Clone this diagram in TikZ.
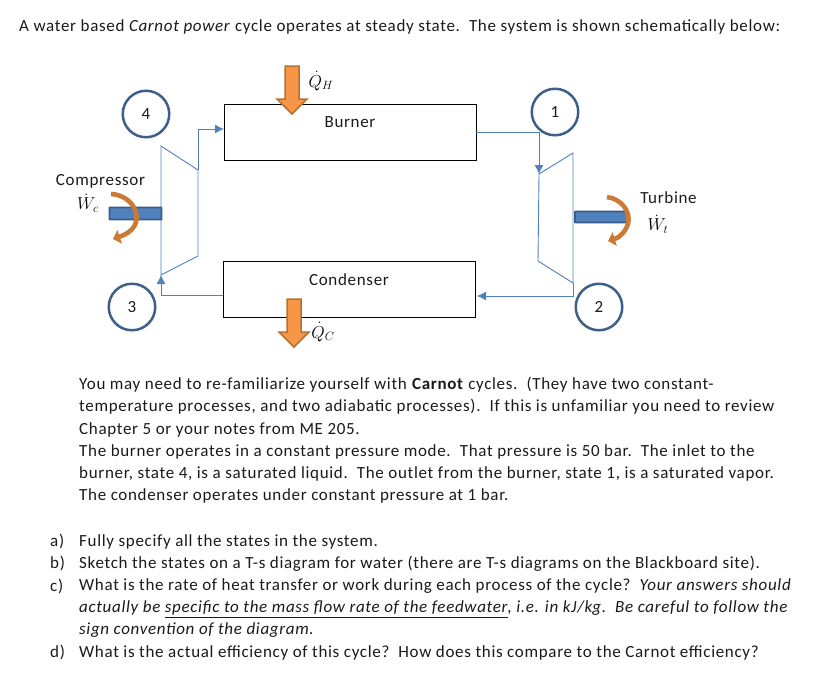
\documentclass[tikz,border=0pt]{standalone}
\usepackage{fontspec}
\setmainfont[LetterSpace=4]{Carlito}
\usetikzlibrary{arrows.meta,positioning}
\definecolor{Flow}{HTML}{4F81BD}
\definecolor{FlowDark}{HTML}{385D8A}
\definecolor{Ring}{HTML}{3E5F8A}
\definecolor{Heat}{HTML}{F79646}
\definecolor{HeatDark}{HTML}{B9702F}
\definecolor{Spin}{HTML}{CB7A35}
\definecolor{Ink}{HTML}{1A1A1A}

\begin{document}
\begin{tikzpicture}[
  x=1pt,y=-1pt,
  every node/.style={font=\fontsize{17}{22.2}\selectfont,text=Ink,inner sep=0pt,align=left},
  rate/.style={font=\fontsize{18}{22}\selectfont,text=black},
  unit/.style={draw=black,fill=white,line width=0.9pt,minimum width=252pt,minimum height=56pt},
  state/.style={circle,draw=Ring,line width=2.5pt,fill=white,minimum size=46.5pt},
  pipe/.style={draw=Flow,line width=0.9pt},
  flow/.style={pipe,-{Latex[length=9pt,width=9pt]}},
  shaft/.style={draw=FlowDark,fill=Flow,line width=1.8pt,rounded corners=0.5pt},
  spin/.style={draw=Spin,line width=4.6pt,-{Triangle[length=7pt,width=14pt]}},
  heatarrow/.pic={\draw[fill=Heat,draw=HeatDark,line width=1.5pt,line join=miter]
    (-7,0)--(7,0)--(7,33)--(15,33)--(0,48)--(-15,33)--(-7,33)--cycle;}
]
\useasboundingbox (0,0) rectangle (834,689);

\node[anchor=base west] (intro) at (19,31) {A water based \textit{Carnot power} cycle operates at steady state.\ \ The system is shown schematically below:};

% burner and condenser
\node[unit] (burner) at (350,132) {};
\node (burnertext) at (350,122) {Burner};
\node[unit] (cond) at (349.5,289) {};
\node (condtext) at (349,280) {Condenser};

\pic (qh) at (292,66) {heatarrow};
\pic (qc) at (294,299) {heatarrow};
\node[rate] (qhlabel) at (321,81) {$\dot{Q}_H$};
\node[rate] (qclabel) at (323,332) {$\dot{Q}_C$};

% compressor
\coordinate (c1) at (161,146);
\coordinate (c2) at (198,170);
\coordinate (c3) at (198,256);
\coordinate (c4) at (161,275);
\coordinate (burnerin) at (224,129);
\coordinate (condout) at (223,295);
\draw[pipe] (c1)--(c2)--(c3)--(c4)--cycle;
\draw[flow] (c2)|-(burnerin);
\draw[flow] (condout)-|(c4);
\node[shaft,minimum width=52pt,minimum height=12pt] (cshaft) at (135.5,213.5) {};
\draw[spin] (111,194) .. controls (130,195) and (141,212) .. (135,225) .. controls (132,231) and (125,235) .. (113,239);
\node (cname) at (100.5,181) {Compressor};
\node[rate] (wc) at (88,203) {$\dot{W}_c$};

% turbine
\coordinate (t1) at (539,174);
\coordinate (t2) at (573,153);
\coordinate (t3) at (573,283);
\coordinate (t4) at (538,261);
\coordinate (condin) at (477,296);
\draw[pipe] (t1)--(t2)--(t3)--(t4)--cycle;
\draw[flow] (burner.east)-|(t1);
\draw[flow] (t3)|-(condin);
\node[shaft,minimum width=52pt,minimum height=11pt] (tshaft) at (601,217) {};
\draw[spin] (607,197) .. controls (622,199) and (631,212) .. (628,224) .. controls (625,233) and (618,238) .. (608,241);
\node (tname) at (668.5,198) {Turbine};
\node[rate] (wt) at (658,224) {$\dot{W}_t$};

% state numbers
\node[state] (s4) at (146,114) {4};
\node[state] (s3) at (132,307) {3};
\node[state] (s1) at (555,112) {1};
\node[state] (s2) at (599,307) {2};

\node[anchor=north west] (para) at (79,377) {You may need to re-familiarize yourself with \textbf{Carnot} cycles.\ \ (They have two constant-\\
temperature processes, and two adiabatic processes).\ \ If this is unfamiliar you need to review\\
Chapter 5 or your notes from ME 205.\\
The burner operates in a constant pressure mode.\ \ That pressure is 50 bar.\ \ The inlet to the\\
burner, state 4, is a saturated liquid.\ \ The outlet from the burner, state 1, is a saturated vapor.\\
The condenser operates under constant pressure at 1 bar.};

\node[anchor=north west] (marks) at (50,534) {a)\\b)\\c)\\[44.4pt]d)};
\node[anchor=north west] (items) at (79,534) {Fully specify all the states in the system.\\
Sketch the states on a T-s diagram for water (there are T-s diagrams on the Blackboard site).\\
What is the rate of heat transfer or work during each process of the cycle?\ \ \textit{Your answers should}\\
\textit{actually be \underline{specific to the mass flow rate of the feedwater}, i.e. in kJ/kg.\ \ Be careful to follow the}\\
\textit{sign convention of the diagram.}\\
What is the actual efficiency of this cycle?\ \ How does this compare to the Carnot efficiency?};
\end{tikzpicture}
\end{document}
